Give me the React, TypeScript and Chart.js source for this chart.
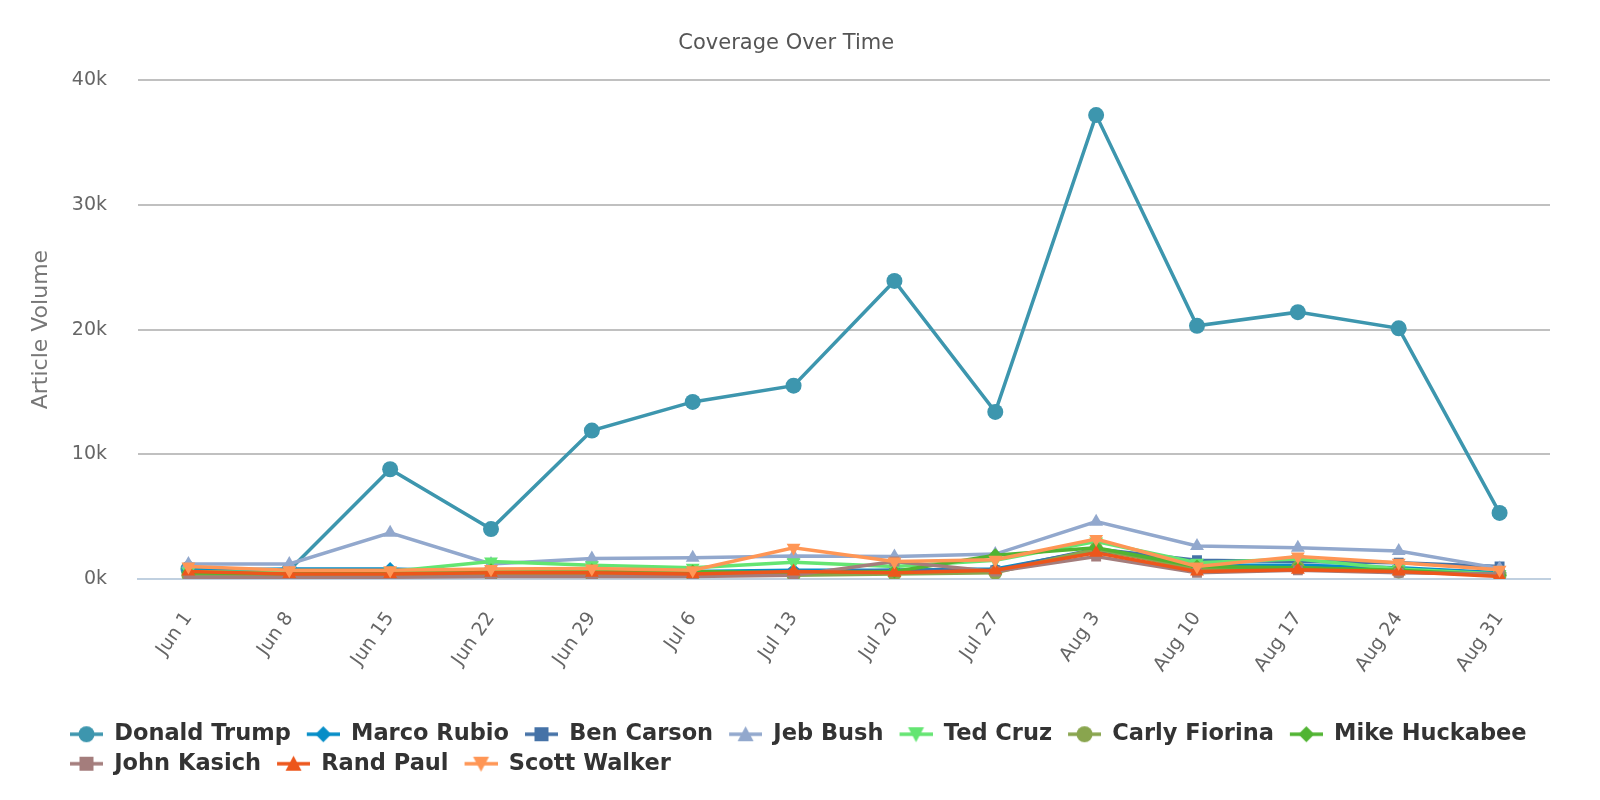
import React, { useEffect, useRef } from "react";
import { Chart, registerables } from "chart.js";

Chart.register(...registerables);

const weeks = ["Jun 1", "Jun 8", "Jun 15", "Jun 22", "Jun 29", "Jul 6", "Jul 13", "Jul 20", "Jul 27", "Aug 3", "Aug 10", "Aug 17", "Aug 24", "Aug 31"];

const trump = [800, 700, 8800, 4000, 11900, 14200, 15500, 23900, 13400, 37200, 20300, 21400, 20100, 5300];
const rubio = [700, 800, 800, 600, 600, 600, 700, 700, 800, 2300, 1100, 1100, 900, 500];
const carson = [500, 500, 500, 600, 500, 500, 500, 700, 700, 2400, 1500, 1400, 1300, 1000];
const bush = [1200, 1200, 3700, 1200, 1650, 1700, 1850, 1800, 2000, 4600, 2650, 2500, 2250, 850];
const cruz = [600, 500, 600, 1400, 1100, 900, 1350, 1000, 1500, 3000, 1300, 1600, 800, 400];
const fiorina = [300, 300, 300, 300, 300, 300, 300, 400, 500, 2400, 800, 900, 600, 300];
const huckabee = [500, 400, 500, 700, 700, 600, 500, 600, 1900, 2500, 1000, 900, 700, 300];
const kasich = [150, 150, 150, 200, 200, 200, 300, 1400, 600, 1800, 500, 700, 500, 400];
const randPaul = [600, 400, 400, 500, 500, 400, 600, 500, 700, 2100, 600, 750, 600, 200];
const walker = [1000, 700, 700, 800, 850, 700, 2500, 1400, 1550, 3200, 1000, 1800, 1300, 750];

const yTicks = [0, 10000, 20000, 30000, 40000];

type Series = { name: string; data: number[]; color: string; style: string; rot: number; r: number };

const series: Series[] = [
  { name: "Donald Trump", data: trump, color: "#3D96AE", style: "circle", rot: 0, r: 8 },
  { name: "Marco Rubio", data: rubio, color: "#058DC7", style: "rectRot", rot: 0, r: 7 },
  { name: "Ben Carson", data: carson, color: "#4572A7", style: "rect", rot: 0, r: 7 },
  { name: "Jeb Bush", data: bush, color: "#92A8CD", style: "triangle", rot: 0, r: 8 },
  { name: "Ted Cruz", data: cruz, color: "#64E572", style: "triangle", rot: 180, r: 8 },
  { name: "Carly Fiorina", data: fiorina, color: "#89A54E", style: "circle", rot: 0, r: 7 },
  { name: "Mike Huckabee", data: huckabee, color: "#50B432", style: "rectRot", rot: 0, r: 7 },
  { name: "John Kasich", data: kasich, color: "#A47D7C", style: "rect", rot: 0, r: 7 },
  { name: "Rand Paul", data: randPaul, color: "#ED561B", style: "triangle", rot: 0, r: 8 },
  { name: "Scott Walker", data: walker, color: "#FF9655", style: "triangle", rot: 180, r: 8 },
];

// little line + marker picture for each legend entry
const legendIcon = (s: Series): HTMLCanvasElement => {
  const c = document.createElement("canvas");
  c.width = 42;
  c.height = 22;
  const g = c.getContext("2d")!;
  g.strokeStyle = s.color;
  g.fillStyle = s.color;
  g.lineWidth = 3.5;
  g.beginPath();
  g.moveTo(9, 11);
  g.lineTo(42, 11);
  g.stroke();
  const cx = 25.5;
  const cy = 11;
  g.beginPath();
  if (s.style === "circle") {
    g.arc(cx, cy, 8, 0, Math.PI * 2);
  } else if (s.style === "rect") {
    g.rect(cx - 7, cy - 7, 14, 14);
  } else if (s.style === "rectRot") {
    g.moveTo(cx, cy - 8);
    g.lineTo(cx + 8, cy);
    g.lineTo(cx, cy + 8);
    g.lineTo(cx - 8, cy);
  } else if (s.rot === 180) {
    g.moveTo(cx - 8, cy - 7);
    g.lineTo(cx + 8, cy - 7);
    g.lineTo(cx, cy + 8);
  } else {
    g.moveTo(cx, cy - 8);
    g.lineTo(cx + 8, cy + 7);
    g.lineTo(cx - 8, cy + 7);
  }
  g.closePath();
  g.fill();
  return c;
};

const font = "'DejaVu Sans', sans-serif";

const App: React.FC = () => {
  const canvasRef = useRef<HTMLCanvasElement>(null);

  useEffect(() => {
    if (!canvasRef.current) return;
    const icons = series.map(legendIcon);

    const chart = new Chart(canvasRef.current, {
      type: "line",
      data: {
        labels: weeks,
        datasets: series.map((s, i) => ({
          label: s.name,
          data: s.data,
          borderColor: s.color,
          backgroundColor: s.color,
          borderWidth: 3.5,
          tension: 0,
          fill: false,
          pointStyle: s.style as any,
          pointRotation: s.rot,
          pointRadius: s.r,
          pointBorderWidth: 0,
          pointBackgroundColor: s.color,
          pointBorderColor: s.color,
          order: series.length - i,
        })),
      },
      options: {
        animation: false,
        responsive: true,
        maintainAspectRatio: false,
        layout: { padding: { left: 46, right: 0, top: 12, bottom: 7 } },
        plugins: {
          title: {
            display: true,
            text: "Coverage Over Time           ",
            color: "#555",
            font: { family: font, size: 21, weight: "normal" },
            padding: { top: 11, bottom: 24 },
          },
          legend: {
            position: "bottom",
            align: "start",
            labels: {
              usePointStyle: true,
              pointStyleWidth: 42,
              padding: 7,
              color: "#333",
              font: { family: font, size: 22.5, weight: "bold" },
              generateLabels: (c) =>
                c.data.datasets.map((d, i) => ({
                  text: d.label as string,
                  fillStyle: series[i].color,
                  strokeStyle: series[i].color,
                  lineWidth: 0,
                  hidden: !c.isDatasetVisible(i),
                  datasetIndex: i,
                  pointStyle: icons[i],
                  rotation: 0,
                  fontColor: "#333",
                })),
            },
          },
          tooltip: { enabled: false },
        },
        scales: {
          x: {
            offset: true,
            afterFit: (scale) => {
              scale.height = 137;
            },
            grid: { display: false, drawTicks: false },
            border: { display: true, color: "#C0D0E0", width: 2 },
            ticks: {
              color: "#666",
              font: { family: font, size: 19 },
              minRotation: 55,
              maxRotation: 55,
              padding: 29,
              autoSkip: false,
            },
          },
          y: {
            min: 0,
            max: 40000,
            afterFit: (scale) => {
              scale.width = 84;
            },
            afterBuildTicks: (scale) => {
              scale.ticks = yTicks.map((v) => ({ value: v }));
            },
            grid: {
              drawTicks: false,
              color: (ctx) => (ctx.tick && ctx.tick.value === 0 ? "rgba(0,0,0,0)" : "#C0C0C0"),
              lineWidth: 2,
            },
            border: { display: false },
            ticks: {
              color: "#666",
              font: { family: font, size: 19 },
              padding: 31,
              callback: (v) => `${Number(v) / 1000}k`,
            },
            title: {
              display: true,
              text: "Article Volume",
              color: "#777",
              font: { family: font, size: 22 },
              padding: { top: -26, bottom: 0 },
            },
          },
          // empty right-hand spacer so the plot stops short of the edge
          spacer: {
            type: "linear",
            position: "right",
            display: true,
            afterFit: (scale) => {
              scale.width = 42;
            },
            grid: { display: false, drawTicks: false },
            border: { display: false },
            ticks: { display: false },
          },
        },
      },
    });

    return () => {
      chart.destroy();
    };
  }, []);

  return (
    <div style={{ width: 1584, height: 784, position: "relative" }}>
      <canvas ref={canvasRef}></canvas>
    </div>
  );
};

export default App;
